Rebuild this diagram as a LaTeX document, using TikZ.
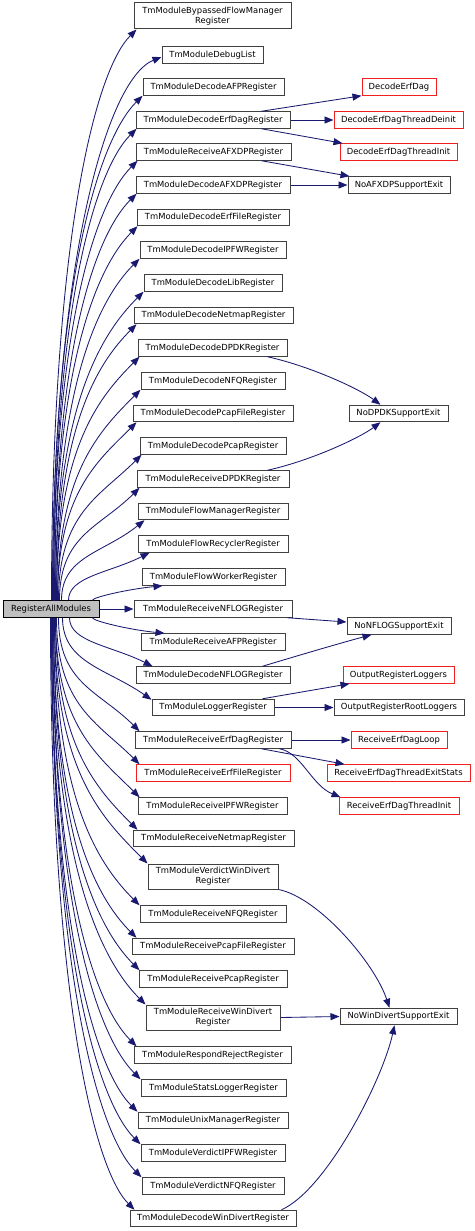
\documentclass[tikz,border=0pt]{standalone}
\usepackage{fontspec}
\setmainfont{DejaVu Sans}
\usetikzlibrary{arrows.meta,calc}
\definecolor{edgec}{HTML}{191970}
\definecolor{boxc}{HTML}{404040}
\definecolor{redc}{HTML}{F02020}
\definecolor{ramfill}{HTML}{BFBFBF}
\tikzset{
 fn/.style={draw=boxc, line width=1pt, fill=white, inner sep=0pt, minimum height=16.5pt, font=\fontsize{8.4}{9.8}\selectfont, align=center},
 rn/.style={fn, draw=redc},
 edge/.style={draw=edgec, line width=0.85pt, -{Triangle[length=9pt,width=7pt]}},
}
\newcommand\upedge[4]{\draw[edge] let \p1=([xshift=#1pt]ram.north west), \p2=(#2) in (\p1) .. controls +(0pt,{#3*(\y2-\y1)}) and +({-0.5*(\x2-\x1)},{-#4*0.5*(\x2-\x1)}) .. (\p2);}
\newcommand\downedge[4]{\draw[edge] let \p1=([xshift=#1pt]ram.south west), \p2=(#2) in (\p1) .. controls +(0pt,{#3*(\y2-\y1)}) and +({-0.5*(\x2-\x1)},{#4*0.5*(\x2-\x1)}) .. (\p2);}
\begin{document}
\begin{tikzpicture}[x=1pt,y=-1pt]
\useasboundingbox (0,0) rectangle (474,1231);
% root
\node[fn, fill=ramfill, draw=black, minimum width=96pt] (ram) at (51,609) {RegisterAllModules};
% middle column
\node[fn, minimum width=157pt, minimum height=26pt] (bfm) at (212.5,16) {TmModuleBypassedFlowManager\\Register};
\node[fn, minimum width=101pt] (dbg) at (212.5,55) {TmModuleDebugList};
\node[fn, minimum width=141pt] (dafp) at (213.5,87) {TmModuleDecodeAFPRegister};
\node[fn, minimum width=154pt] (derf) at (213,120) {TmModuleDecodeErfDagRegister};
\node[fn, minimum width=155pt] (rafxdp) at (213.5,152) {TmModuleReceiveAFXDPRegister};
\node[fn, minimum width=154pt] (dafxdp) at (213,185) {TmModuleDecodeAFXDPRegister};
\node[fn, minimum width=152pt] (derff) at (213,217.5) {TmModuleDecodeErfFileRegister};
\node[fn, minimum width=146pt] (dipfw) at (213,250) {TmModuleDecodeIPFWRegister};
\node[fn, minimum width=138pt] (dlib) at (213,283) {TmModuleDecodeLibRegister};
\node[fn, minimum width=159pt] (dnetmap) at (213.5,315.5) {TmModuleDecodeNetmapRegister};
\node[fn, minimum width=149pt] (ddpdk) at (212.5,348) {TmModuleDecodeDPDKRegister};
\node[fn, minimum width=144pt] (dnfq) at (213,381) {TmModuleDecodeNFQRegister};
\node[fn, minimum width=160pt] (dpcapf) at (213,413.5) {TmModuleDecodePcapFileRegister};
\node[fn, minimum width=146pt] (dpcap) at (213,446) {TmModuleDecodePcapRegister};
\node[fn, minimum width=152pt] (rdpdk) at (213,479) {TmModuleReceiveDPDKRegister};
\node[fn, minimum width=150pt] (fm) at (213,511.5) {TmModuleFlowManagerRegister};
\node[fn, minimum width=150pt] (fr) at (213,544) {TmModuleFlowRecyclerRegister};
\node[fn, minimum width=143pt] (fw) at (213.5,577) {TmModuleFlowWorkerRegister};
\node[fn, minimum width=158pt] (rnflog) at (213,609) {TmModuleReceiveNFLOGRegister};
\node[fn, minimum width=144pt] (rafp) at (213,642) {TmModuleReceiveAFPRegister};
\node[fn, minimum width=154pt] (dnflog) at (213,675) {TmModuleDecodeNFLOGRegister};
\node[fn, minimum width=122pt] (logr) at (213,707.5) {TmModuleLoggerRegister};
\node[fn, minimum width=156pt] (rerf) at (213,740) {TmModuleReceiveErfDagRegister};
\node[rn, minimum width=154pt] (rerff) at (213,773) {TmModuleReceiveErfFileRegister};
\node[fn, minimum width=149pt] (ripfw) at (212.5,806) {TmModuleReceiveIPFWRegister};
\node[fn, minimum width=161pt] (rnetmap) at (213.5,838.5) {TmModuleReceiveNetmapRegister};
\node[fn, minimum width=130pt, minimum height=25pt] (vwd) at (213,876.5) {TmModuleVerdictWinDivert\\Register};
\node[fn, minimum width=146pt] (rnfq) at (213,914) {TmModuleReceiveNFQRegister};
\node[fn, minimum width=162pt] (rpcapf) at (213,946.5) {TmModuleReceivePcapFileRegister};
\node[fn, minimum width=148pt] (rpcap) at (213,979) {TmModuleReceivePcapRegister};
\node[fn, minimum width=134pt, minimum height=25pt] (rwd) at (213,1017.5) {TmModuleReceiveWinDivert\\Register};
\node[fn, minimum width=157pt] (rr) at (212.5,1055) {TmModuleRespondRejectRegister};
\node[fn, minimum width=145pt] (sl) at (213.5,1088) {TmModuleStatsLoggerRegister};
\node[fn, minimum width=150pt] (um) at (213,1120.5) {TmModuleUnixManagerRegister};
\node[fn, minimum width=144pt] (vipfw) at (213,1153) {TmModuleVerdictIPFWRegister};
\node[fn, minimum width=142pt] (vnfq) at (213,1186) {TmModuleVerdictNFQRegister};
\node[fn, minimum width=166pt] (dwd) at (213,1218.5) {TmModuleDecodeWinDivertRegister};
% right column
\node[rn, minimum width=74pt] (ed) at (399,87) {DecodeErfDag};
\node[rn, minimum width=129pt] (edd) at (398.5,120) {DecodeErfDagThreadDeinit};
\node[rn, minimum width=117pt] (edi) at (398.5,152) {DecodeErfDagThreadInit};
\node[fn, minimum width=102pt] (noafxdp) at (399,185) {NoAFXDPSupportExit};
\node[fn, minimum width=99pt] (nodpdk) at (398.5,413.5) {NoDPDKSupportExit};
\node[fn, minimum width=104pt] (nonflog) at (399,626) {NoNFLOGSupportExit};
\node[rn, minimum width=111pt] (orl) at (398.5,675) {OutputRegisterLoggers};
\node[fn, minimum width=130pt] (orrl) at (399,707.5) {OutputRegisterRootLoggers};
\node[rn, minimum width=96pt] (rel) at (399,740) {ReceiveErfDagLoop};
\node[rn, minimum width=143pt] (rees) at (398.5,773) {ReceiveErfDagThreadExitStats};
\node[rn, minimum width=120pt] (rei) at (399,806) {ReceiveErfDagThreadInit};
\node[fn, minimum width=117pt] (nowd) at (398.5,1016.5) {NoWinDivertSupportExit};
% edges from root, upward
\upedge{49}{[xshift=3pt]bfm.south west}{0.62}{1}
\upedge{50}{[yshift=-2pt]dbg.west}{0.62}{0.4}
\upedge{50}{dafp.south west}{0.62}{1}
\upedge{51}{[xshift=1pt]derf.south west}{0.62}{1}
\upedge{51}{[xshift=2pt]rafxdp.south west}{0.62}{1}
\upedge{52}{[xshift=1pt]dafxdp.south west}{0.62}{1}
\upedge{52}{[xshift=1pt]derff.south west}{0.62}{1}
\upedge{53}{dipfw.south west}{0.62}{1}
\upedge{53}{dlib.south west}{0.62}{1}
\upedge{54}{[xshift=3pt]dnetmap.south west}{0.62}{1}
\upedge{54}{[xshift=2pt]ddpdk.south west}{0.62}{1}
\upedge{55}{dnfq.south west}{0.6}{1}
\upedge{55}{[xshift=4pt]dpcapf.south west}{0.6}{1}
\upedge{56}{[xshift=2pt]dpcap.south west}{0.6}{1}
\upedge{57}{[xshift=3pt]rdpdk.south west}{0.58}{1}
\upedge{59}{[xshift=7pt]fm.south west}{0.55}{0.8}
\upedge{66}{[xshift=12pt]fr.south west}{0.5}{0.5}
\upedge{90}{[xshift=21pt]fw.south west}{0.2}{0.1}
\draw[edge] (ram.east) -- (rnflog.west);
% edges from root, downward
\downedge{90}{[xshift=24pt]rafp.north west}{0.2}{0.1}
\downedge{67}{[xshift=17pt]dnflog.north west}{0.5}{0.5}
\downedge{60}{[yshift=-1pt]logr.north west}{0.55}{0.7}
\downedge{56}{[xshift=5pt]rerf.north west}{0.58}{1}
\downedge{54}{[xshift=4pt]rerff.north west}{0.6}{1}
\downedge{53}{[xshift=2pt]ripfw.north west}{0.6}{1}
\downedge{53}{[xshift=5pt]rnetmap.north west}{0.6}{1}
\downedge{52}{vwd.north west}{0.62}{1}
\downedge{52}{rnfq.north west}{0.62}{1}
\downedge{51}{[xshift=5pt]rpcapf.north west}{0.62}{1}
\downedge{51}{[xshift=1pt]rpcap.north west}{0.62}{1}
\downedge{50}{rwd.north west}{0.62}{1}
\downedge{50}{[xshift=3pt]rr.north west}{0.62}{1}
\downedge{50}{sl.north west}{0.62}{1}
\downedge{49}{um.north west}{0.62}{1}
\downedge{49}{vipfw.north west}{0.62}{1}
\downedge{49}{vnfq.north west}{0.62}{1}
\downedge{48}{[xshift=5pt]dwd.north west}{0.62}{1}
% right-side edges
\draw[edge] ([xshift=126pt]derf.north west) -- (ed.south west);
\draw[edge] (derf.east) -- (edd.west);
\draw[edge] ([xshift=126pt]derf.south west) -- ([xshift=3pt]edi.north west);
\draw[edge] ([xshift=126pt]rafxdp.south west) -- ([xshift=2pt]noafxdp.north west);
\draw[edge] (dafxdp.east) -- (noafxdp.west);
\draw[edge] ([xshift=130pt]ddpdk.south west) .. controls +(45,10) and +(-20,-15) .. ([xshift=32pt]nodpdk.north west);
\draw[edge] ([xshift=131pt]rdpdk.north west) .. controls +(45,-10) and +(-20,15) .. ([xshift=32pt]nodpdk.south west);
\draw[edge] ([xshift=-5pt]rnflog.south east) -- ([yshift=4pt]nonflog.west);
\draw[edge] ([xshift=127pt]dnflog.north west) .. controls +(40,-12) and +(-30,8) .. ([xshift=25pt]nonflog.south west);
\draw[edge] ([xshift=111pt]logr.north west) -- ([xshift=7pt]orl.south west);
\draw[edge] (logr.east) -- (orrl.west);
\draw[edge] (rerf.east) -- (rel.west);
\draw[edge] ([xshift=127pt]rerf.south west) -- ([xshift=18pt]rees.north west);
\draw[edge] ([xshift=145pt]rerf.south west) .. controls +(22,4) and +(-29,-12) .. ([xshift=2pt]rei.north west);
\draw[edge] (vwd.south east) .. controls +(40,8) and +(-15,-45) .. ([xshift=50pt]nowd.north west);
\draw[edge] (rwd.east) -- (nowd.west);
\draw[edge] ([xshift=152pt]dwd.north west) .. controls +(45,-20) and +(-12,55) .. ([xshift=55pt]nowd.south west);
\end{tikzpicture}
\end{document}
